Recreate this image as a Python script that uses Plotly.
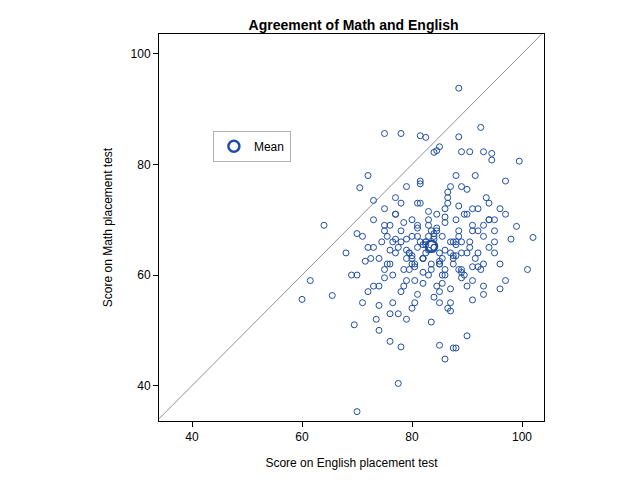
import plotly.graph_objects as go

# English score (x) and Math score (y)
english = [88.5, 75, 78, 81.5, 82.5, 88.5, 92.5, 64, 61.5, 60, 65.5, 70, 77.5, 69.5, 72, 70.5,
           99.5, 101, 102, 99, 97, 96, 86, 87.5, 88, 85, 93, 94.5, 94.5, 89, 90.5, 84, 84.5, 85,
           68, 69, 71, 72.5, 73, 74, 74.5, 75, 75.5, 76, 76.5, 77, 77.5, 78, 78.5, 79, 79.5, 80,
           80.5, 81, 81.5, 82, 82.5, 83, 83.5, 84, 84.5, 85, 85.5, 86, 86.5, 87, 87.5, 88, 88.5,
           89, 89.5, 90, 90.5, 91, 91.5, 92, 92.5, 93, 93.5, 94, 95, 96, 97,
           70, 71.5, 73, 74, 75, 76, 77, 78, 79, 80, 81, 82, 83, 84, 85, 86, 87, 88, 89, 90, 91, 92, 93, 94, 95,
           72, 73.5, 75.5, 76.5, 77.5, 78.5, 79.5, 80.5, 81.5, 82.5, 83.5, 84.5, 85.5, 86.5, 87.5, 88.5, 89.5, 90.5, 91.5, 93,
           74, 76, 78, 79, 80, 81, 82, 83, 84, 85, 86, 87, 88, 89, 90, 92, 94,
           75, 77, 79, 80.5, 81.5, 82.5, 83.5, 84.5, 85.5, 86.5, 87.5, 88.5, 90, 91,
           76, 78, 80, 81, 82, 83, 84, 85, 86, 87, 88, 89, 91,
           73, 75, 77, 79, 81, 83, 85, 87, 89, 91, 93, 95,
           70, 72, 74, 76, 78, 80, 82, 84, 86, 88, 90, 92, 94, 96, 98,
           71, 73, 75, 77, 79, 81, 83, 85, 87, 89, 91, 93, 95, 97,
           76.5, 78.5, 80.5, 82.5, 84.5, 86.5, 88.5, 79.5, 81.5, 83.5, 85.5, 87.5, 80, 82, 84, 86]
math = [93.8, 85.6, 85.6, 85.2, 84.9, 85, 86.7, 69, 59, 55.6, 56.3, 35.3, 40.4, 51, 78, 75.8,
        80.6, 61, 66.8, 68.8, 59, 57.5, 44.8, 46.8, 46.8, 47.3, 82.3, 82, 80.8, 82.3, 82.3, 82.2, 82.5, 83.2,
        64, 60, 67, 63, 70, 58, 66, 72, 62, 69, 55, 74, 65, 68, 61, 76, 64, 70,
        59, 67, 73, 63, 66, 69, 61, 65, 71, 64, 67, 60, 73, 66, 62, 70, 68,
        64, 71, 58, 66, 69, 63, 72, 61, 67, 74, 65, 70, 62, 77,
        67.5, 62.5, 73.5, 54.5, 59.5, 64.5, 71, 57, 66.5, 63.5, 68.5, 60.5, 64.5, 67.5, 62.5, 69.5, 57.5, 65.5, 60.5, 75.5, 61.5, 68, 56.5, 73, 66,
        57, 52, 67, 60, 53, 69.5, 61, 55, 76.5, 64, 62, 68, 58.5, 75, 63, 72.5, 60, 65, 78, 69,
        50, 48, 47, 64.5, 54, 69, 58.5, 71.5, 56, 62, 70.5, 53.5, 66, 59.5, 49, 64, 70,
        69, 66.5, 52, 61.5, 77, 65.5, 51.5, 68.5, 60, 74, 63.5, 67, 71, 72,
        62, 73, 67, 56.5, 63, 70, 65, 62, 72, 55, 78, 61, 55.5,
        65, 61, 71, 63, 73, 67, 57, 64, 76, 68, 58, 64,
        60, 65, 63, 53, 66, 62, 65.5, 66.5, 64.5, 63.5, 64, 61.5, 70, 72, 66.5,
        55, 58, 68, 64, 59, 65, 60, 55, 76, 66, 59, 62, 68, 71,
        66, 58, 62, 66, 58, 54, 61, 64, 66, 68, 63, 66, 63, 63, 67, 61]

mean_x = [sum(english) / len(english)]
mean_y = [sum(math) / len(math)]

fig = go.Figure()
fig.add_trace(go.Scatter(x=[34, 104], y=[34, 104], mode='lines',
                         line=dict(color='#909090', width=1), showlegend=False, hoverinfo='skip'))
fig.add_trace(go.Scatter(x=english, y=math, mode='markers', showlegend=False,
                         marker=dict(symbol='circle-open', size=6, color='#1f4ea3', line=dict(width=1))))
fig.add_trace(go.Scatter(x=mean_x, y=mean_y, mode='markers', name='Mean',
                         marker=dict(symbol='circle-open', size=11, color='#1f4ea3', line=dict(width=2.5))))

axis_style = dict(showgrid=False, zeroline=False, showline=True, linecolor='#000', mirror=True,
                  ticks='outside', ticklen=5, tickcolor='#000', tickfont=dict(size=12, color='#000'))
fig.update_xaxes(range=[34, 104], tickvals=[40, 60, 80, 100],
                 title=dict(text='Score on English placement test', font=dict(size=12)), **axis_style)
fig.update_yaxes(range=[33.6, 103.6], tickvals=[40, 60, 80, 100],
                 title=dict(text='Score on Math placement test', font=dict(size=12)), **axis_style)

fig.update_layout(
    width=640, height=480,
    title=dict(text='<b>Agreement of Math and English</b>', x=0.54, y=0.975, font=dict(size=14, color='#000')),
    font=dict(family='Liberation Sans, Arial', color='#000'),
    plot_bgcolor='white', paper_bgcolor='white',
    margin=dict(l=151, r=104, t=26, b=67),
    legend=dict(x=0.14, y=0.75, bordercolor='#b0b0b0', borderwidth=1, bgcolor='white',
                font=dict(size=12), itemwidth=30),
)

fig.write_html("out.html")
